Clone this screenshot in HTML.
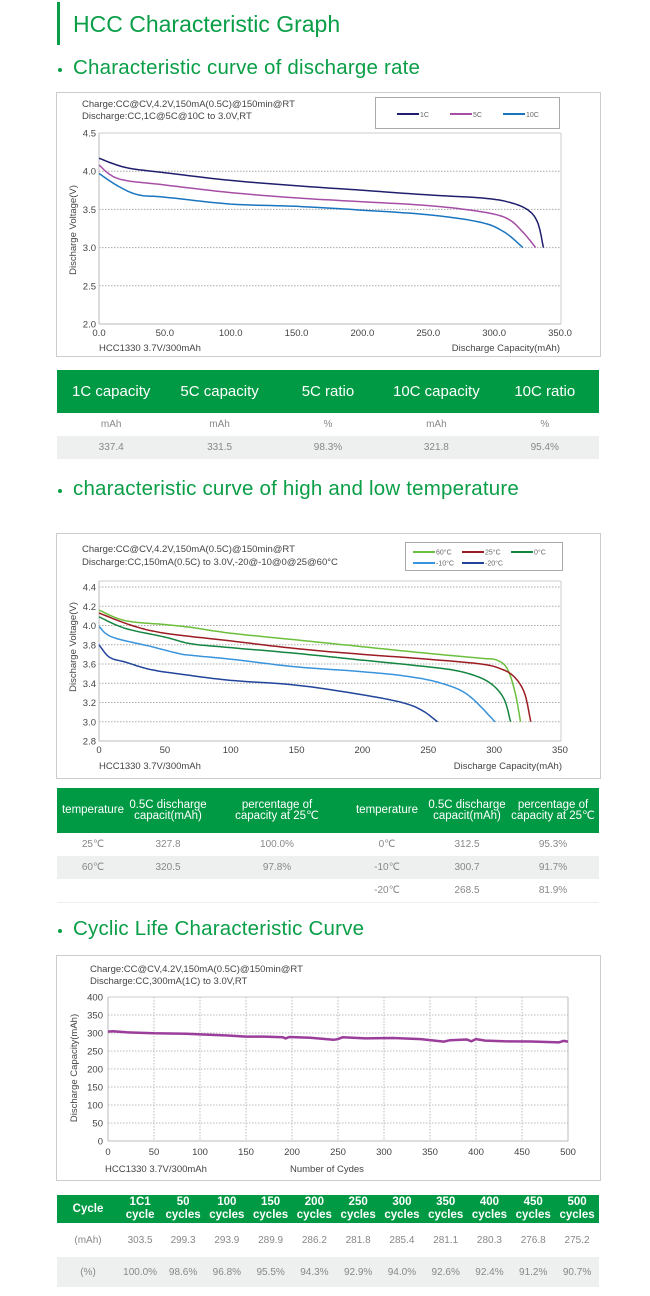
<!DOCTYPE html>
<html><head><meta charset="utf-8">
<style>
body{margin:0;width:650px;height:1296px;background:#fff;position:relative;font-family:"Liberation Sans",sans-serif;overflow:hidden}
.a{position:absolute}
.h{color:#0a9e47;font-size:20.5px;left:73px;white-space:nowrap;letter-spacing:0.2px}
.dot{position:absolute;left:58px;width:4px;height:4px;border-radius:50%;background:#0a9e47}
table{border-collapse:collapse;position:absolute;left:57px;width:542px;font-family:"Liberation Sans",sans-serif}
th{background:#009a44;color:#fff;font-weight:normal;padding:0}
td{color:#888;text-align:center;padding:0;font-size:10px}
tr.g td{background:#eeefef}
</style></head><body>
<div class="a" style="left:57px;top:2px;width:3px;height:43px;background:#0a9e47"></div>
<div class="a" style="left:73px;top:11px;font-size:23px;color:#0a9e47">HCC Characteristic Graph</div>
<div class="dot" style="top:68px"></div><div class="a h" style="top:56px">Characteristic curve of discharge rate</div>
<div class="dot" style="top:489px"></div><div class="a h" style="top:477px">characteristic curve of high and low temperature</div>
<div class="dot" style="top:929px"></div><div class="a h" style="top:917px">Cyclic Life Characteristic Curve</div>

<svg class="a" style="left:0;top:0" width="650" height="1296" font-family="Liberation Sans, sans-serif" id="s">
<rect x="56.5" y="92.5" width="544" height="264" fill="none" stroke="#ccc"/>
<rect x="56.5" y="533.5" width="544" height="245" fill="none" stroke="#ccc"/>
<rect x="56.5" y="955.5" width="544" height="225" fill="none" stroke="#ccc"/>
<g id="g"></g>
</svg>

<table style="top:370px;height:89px;table-layout:fixed">
<tr style="height:43px"><th style="font-size:15px">1C capacity</th><th style="font-size:15px">5C capacity</th><th style="font-size:15px">5C ratio</th><th style="font-size:15px">10C capacity</th><th style="font-size:15px">10C ratio</th></tr>
<tr style="height:23px"><td>mAh</td><td>mAh</td><td>%</td><td>mAh</td><td>%</td></tr>
<tr class="g" style="height:23px"><td>337.4</td><td>331.5</td><td>98.3%</td><td>321.8</td><td>95.4%</td></tr>
</table>

<table style="top:788px;height:114px">
<tr style="height:45px;font-size:11.5px;line-height:11px"><th style="width:72px">temperature</th><th style="width:78px">0.5C discharge<br>capacit(mAh)</th><th>percentage of<br>capacity at 25℃</th><th style="width:80px">temperature</th><th style="width:80px">0.5C discharge<br>capacit(mAh)</th><th style="width:92px">percentage of<br>capacity at 25℃</th></tr>
<tr style="height:23px"><td>25℃</td><td>327.8</td><td>100.0%</td><td>0℃</td><td>312.5</td><td>95.3%</td></tr>
<tr class="g" style="height:23px"><td>60℃</td><td>320.5</td><td>97.8%</td><td>-10℃</td><td>300.7</td><td>91.7%</td></tr>
<tr style="height:23px;border-bottom:1px solid #eee"><td></td><td></td><td></td><td>-20℃</td><td>268.5</td><td>81.9%</td></tr>
</table>

<table style="top:1195px;height:92px">
<tr style="height:28px;font-size:11.5px;line-height:13px;font-weight:bold"><th style="font-weight:bold;width:62px">Cycle</th><th style="font-weight:bold">1C1<br>cycle</th><th style="font-weight:bold">50<br>cycles</th><th style="font-weight:bold">100<br>cycles</th><th style="font-weight:bold">150<br>cycles</th><th style="font-weight:bold">200<br>cycles</th><th style="font-weight:bold">250<br>cycles</th><th style="font-weight:bold">300<br>cycles</th><th style="font-weight:bold">350<br>cycles</th><th style="font-weight:bold">400<br>cycles</th><th style="font-weight:bold">450<br>cycles</th><th style="font-weight:bold">500<br>cycles</th></tr>
<tr style="height:34px"><td>(mAh)</td><td>303.5</td><td>299.3</td><td>293.9</td><td>289.9</td><td>286.2</td><td>281.8</td><td>285.4</td><td>281.1</td><td>280.3</td><td>276.8</td><td>275.2</td></tr>
<tr class="g" style="height:30px"><td>(%)</td><td>100.0%</td><td>98.6%</td><td>96.8%</td><td>95.5%</td><td>94.3%</td><td>92.9%</td><td>94.0%</td><td>92.6%</td><td>92.4%</td><td>91.2%</td><td>90.7%</td></tr>
</table>

<script>
var g=document.getElementById('g'),h='';
function T(x,y,t,o){o=o||{};h+='<text x="'+x+'" y="'+y+'" font-size="'+(o.fs||9.5)+'" fill="'+(o.c||'#444')+'" text-anchor="'+(o.a||'start')+'"'+(o.r?' transform="rotate(-90 '+x+' '+y+')"':'')+'>'+t+'</text>';}
function L(x1,y1,x2,y2,c,d){h+='<line x1="'+x1+'" y1="'+y1+'" x2="'+x2+'" y2="'+y2+'" stroke="'+c+'"'+(d?' stroke-dasharray="1.5,1.5"':'')+'/>';}
function P(pts,X,Y,c,w){var s='';pts.forEach(function(p,i){s+=(i?' ':'')+X(p[0]).toFixed(1)+','+Y(p[1]).toFixed(1);});h+='<polyline points="'+s+'" fill="none" stroke="'+c+'" stroke-width="'+(w||1.5)+'" stroke-linejoin="round"/>';}
function sm(p){
 var o=[];for(var i=0;i<p.length-1;i++){var p0=p[i-1]||p[i],p1=p[i],p2=p[i+1],p3=p[i+2]||p[i+1];for(var t=0;t<1;t+=0.1){var t2=t*t,t3=t2*t;o.push([0.5*(2*p1[0]+(-p0[0]+p2[0])*t+(2*p0[0]-5*p1[0]+4*p2[0]-p3[0])*t2+(-p0[0]+3*p1[0]-3*p2[0]+p3[0])*t3),0.5*(2*p1[1]+(-p0[1]+p2[1])*t+(2*p0[1]-5*p1[1]+4*p2[1]-p3[1])*t2+(-p0[1]+3*p1[1]-3*p2[1]+p3[1])*t3)]);}}o.push(p[p.length-1]);return o;}
// Chart 1
var X1=function(c){return 99+c*1.3171},Y1=function(v){return 133+(4.5-v)*76.4};
T(82,107,'Charge:CC@CV,4.2V,150mA(0.5C)@150min@RT');T(82,119,'Discharge:CC,1C@5C@10C to 3.0V,RT');
h+='<rect x="375.5" y="97.5" width="184" height="31" fill="#fff" stroke="#aaa"/>';
[['#1f1f6e','1C',397],['#a54ea5','5C',450],['#1a75c0','10C',503]].forEach(function(a){h+='<line x1="'+a[2]+'" y1="114" x2="'+(a[2]+22)+'" y2="114" stroke="'+a[0]+'" stroke-width="2"/>';T(a[2]+23,117,a[1],{fs:7,c:'#666'});});
for(var v=2;v<=4.51;v+=0.5){var y=Y1(v);if(v>2.1&&v<4.4)L(99,y,561,y,'#aaa',1);T(96,y+3.5,v.toFixed(1),{a:'end'});}
L(99,Y1(2),561,Y1(2),'#bbb');L(99,Y1(4.5),99,Y1(2),'#bbb');L(561,Y1(4.5),561,Y1(2),'#ccc');L(99,Y1(4.5),561,Y1(4.5),'#ccc');
for(var c=0;c<=350;c+=50)T(X1(c),Y1(2)+12,c.toFixed(1),{a:'middle'});
T(99,351,'HCC1330  3.7V/300mAh');T(560,351,'Discharge Capacity(mAh)',{a:'end'});T(76,230,'Discharge Voltage(V)',{r:1,a:'middle'});
P(sm([[0,4.17],[20,4.05],[50,3.98],[100,3.88],[150,3.81],[200,3.75],[250,3.69],[290,3.65],[310,3.6],[325,3.5],[333,3.33],[337.4,3.0]]),X1,Y1,'#1f1f6e');
P(sm([[0,4.08],[15,3.9],[50,3.82],[100,3.72],[150,3.65],[200,3.6],[250,3.55],[290,3.47],[310,3.38],[322,3.2],[331.5,3.0]]),X1,Y1,'#a54ea5');
P(sm([[0,3.97],[15,3.8],[30,3.69],[50,3.66],[100,3.57],[150,3.54],[200,3.49],[250,3.43],[290,3.33],[308,3.2],[321.8,3.0]]),X1,Y1,'#1a75c0');
// Chart 2
var X2=function(c){return 99+c*1.3171},Y2=function(v){return 587+(4.4-v)*96.25};
T(82,552,'Charge:CC@CV,4.2V,150mA(0.5C)@150min@RT');T(82,565,'Discharge:CC,150mA(0.5C) to 3.0V,-20@-10@0@25@60°C');
h+='<rect x="405.5" y="542.5" width="157" height="28" fill="#fff" stroke="#aaa"/>';
[['#6cbf3c','60°C',413,552],['#9b1c22','25°C',462,552],['#138540','0°C',511,552],['#3a94db','-10°C',413,563],['#22449b','-20°C',462,563]].forEach(function(a){h+='<line x1="'+a[2]+'" y1="'+a[3]+'" x2="'+(a[2]+22)+'" y2="'+a[3]+'" stroke="'+a[0]+'" stroke-width="2"/>';T(a[2]+23,a[3]+2.5,a[1],{fs:7,c:'#666'});});
for(var i=0;i<=8;i++){var v=2.8+i*0.2,y=Y2(v);if(i>0)L(99,y,561,y,'#aaa',1);T(96,y+3.5,v.toFixed(1),{a:'end'});}
L(99,Y2(2.8),561,Y2(2.8),'#bbb');L(99,Y2(4.4)-6,99,Y2(2.8),'#bbb');L(561,Y2(4.4)-6,561,Y2(2.8),'#ccc');L(99,Y2(4.4)-6,561,Y2(4.4)-6,'#ccc');
for(var c=0;c<=350;c+=50)T(X2(c),Y2(2.8)+12,c,{a:'middle'});
T(99,769,'HCC1330  3.7V/300mAh');T(562,769,'Discharge Capacity(mAh)',{a:'end'});T(76,647,'Discharge Voltage(V)',{r:1,a:'middle'});
P(sm([[0,4.16],[20,4.05],[50,4.01],[70,3.98],[100,3.92],[150,3.85],[200,3.78],[250,3.71],[290,3.66],[302,3.64],[310,3.55],[316,3.3],[320,3.0]]),X2,Y2,'#6cbf3c');
P(sm([[0,4.13],[25,4.0],[50,3.92],[100,3.84],[150,3.76],[200,3.70],[250,3.65],[290,3.6],[305,3.55],[315,3.47],[323,3.3],[327.8,3.0]]),X2,Y2,'#9b1c22');
P(sm([[0,4.09],[20,3.97],[50,3.88],[70,3.81],[100,3.77],[150,3.71],[200,3.64],[250,3.57],[275,3.52],[295,3.42],[307,3.25],[312.5,3.0]]),X2,Y2,'#138540');
P(sm([[0,3.99],[10,3.88],[40,3.78],[60,3.71],[70,3.69],[100,3.65],[150,3.57],[200,3.52],[235,3.47],[260,3.4],[280,3.28],[300.7,3.0]]),X2,Y2,'#3a94db');
P(sm([[0,3.8],[8,3.67],[20,3.62],[40,3.54],[70,3.48],[100,3.43],[150,3.38],[200,3.28],[230,3.2],[245,3.12],[257,3.0]]),X2,Y2,'#22449b');
// Chart 3
var X3=function(n){return 108+n*0.92},Y3=function(v){return 997+(400-v)*0.36};
T(90,972,'Charge:CC@CV,4.2V,150mA(0.5C)@150min@RT');T(90,984,'Discharge:CC,300mA(1C) to 3.0V,RT');
for(var v=0;v<=400;v+=50){var y=Y3(v);if(v>0)L(108,y,568,y,'#bbb',1);T(103,y+3.5,v,{a:'end'});}
for(var n=0;n<=500;n+=50){var x=X3(n);if(n>0&&n<500)L(x,Y3(400),x,Y3(0),'#bbb',1);T(x,Y3(0)+14,n,{a:'middle'});}
L(108,Y3(0),568,Y3(0),'#bbb');L(108,Y3(400),108,Y3(0),'#bbb');L(568,Y3(400),568,Y3(0),'#bbb');L(108,Y3(400),568,Y3(400),'#ccc');
T(105,1172,'HCC1330  3.7V/300mAh');T(290,1172,'Number of Cydes');T(77,1068,'Discharge Capacity(mAh)',{r:1,a:'middle'});
P([[0,304],[5,305],[20,302],[50,299.3],[85,298],[100,296],[130,293],[150,290],[170,290],[190,288],[193,285],[197,289],[220,287],[245,281],[250,283],[255,288],[280,285],[310,286],[340,283],[355,279],[365,276],[372,280],[390,282],[395,277],[400,283],[410,279],[430,277],[460,276.5],[490,274],[495,278],[500,276]],X3,Y3,'#9b3d9b',2.5);
g.innerHTML=h;
</script>
</body></html>
